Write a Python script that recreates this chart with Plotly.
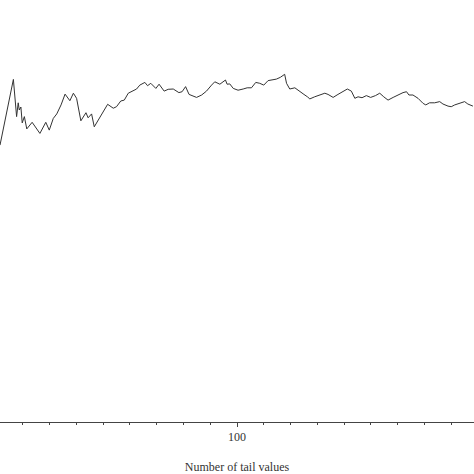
import plotly.graph_objects as go

# tail count and estimate
tail_values = [11.5, 16.5, 17.7, 18.3, 18.7, 19.3, 19.8, 20.6, 21.5, 23.5,
               26.4, 28.6, 29.9, 31.4, 32.7, 34.3, 35.8, 37.6, 38.9, 40.1,
               41.7, 43.6, 44.4, 45.7, 46.7, 49.4, 51.7, 53.8, 55.0, 56.6,
               57.9, 59.4, 60.6, 62.5, 63.7, 65.6, 66.6, 67.8, 69.7, 70.9,
               72.8, 74.3, 76.2, 78.3, 79.5, 80.8, 82.1, 83.6, 84.9, 86.8,
               88.6, 90.5, 91.7, 93.6, 94.8, 95.7, 96.3, 97.3, 98.6, 100.4,
               102.3, 103.8, 105.4, 107.0, 108.5, 110.0, 111.6, 113.3, 114.7, 116.2,
               117.8, 118.5, 119.7, 121.6, 123.4, 125.0, 126.3, 127.2, 129.0, 130.9,
               132.8, 134.0, 135.9, 137.7, 139.6, 141.2, 142.7, 144.0, 145.2, 146.7,
               148.3, 149.9, 151.7, 153.3, 154.8, 156.4, 158.3, 160.1, 162.0, 163.3,
               164.2, 165.7, 167.6, 169.5, 170.5, 171.9, 173.8, 175.7, 176.9, 178.8,
               180.0, 181.3, 183.1, 185.0, 186.2, 188.1]
estimate = [0.923, 1.142, 1.018, 1.064, 1.040, 1.050, 0.997, 1.018, 0.977, 0.999,
            0.962, 0.999, 0.973, 1.012, 1.027, 1.057, 1.093, 1.071, 1.096, 1.079,
            1.004, 1.031, 1.014, 1.027, 0.984, 1.023, 1.059, 1.046, 1.051, 1.070,
            1.073, 1.096, 1.101, 1.110, 1.123, 1.132, 1.121, 1.129, 1.112, 1.126,
            1.103, 1.109, 1.110, 1.098, 1.101, 1.118, 1.092, 1.088, 1.082, 1.090,
            1.103, 1.123, 1.134, 1.126, 1.134, 1.140, 1.126, 1.127, 1.112, 1.106,
            1.110, 1.114, 1.114, 1.132, 1.129, 1.123, 1.138, 1.140, 1.143, 1.149,
            1.159, 1.129, 1.110, 1.114, 1.101, 1.092, 1.084, 1.077, 1.084, 1.090,
            1.096, 1.092, 1.082, 1.092, 1.103, 1.110, 1.103, 1.079, 1.084, 1.081,
            1.088, 1.082, 1.088, 1.096, 1.084, 1.073, 1.082, 1.090, 1.098, 1.101,
            1.090, 1.090, 1.079, 1.062, 1.057, 1.064, 1.064, 1.068, 1.060, 1.053,
            1.051, 1.057, 1.062, 1.068, 1.060, 1.053]

x_range = [11.5, 188.5]
y_range = [0, 1.4067]

fig = go.Figure()
fig.add_trace(go.Scatter(x=tail_values, y=estimate, mode="lines",
                         line=dict(color="#333333", width=1), showlegend=False))

serif = "Liberation Serif, Times New Roman, serif"
fig.update_layout(
    width=474, height=474,
    margin=dict(l=0, r=0, t=0, b=52),
    paper_bgcolor="white", plot_bgcolor="white",
    font=dict(family=serif, size=12, color="#333333"),
    xaxis=dict(range=x_range, showgrid=False, zeroline=False,
               showline=True, linecolor="#444444", linewidth=1,
               tick0=0, dtick=100, ticks="outside", ticklen=4,
               tickcolor="#444444",
               minor=dict(dtick=10, ticks="outside", ticklen=2, tickcolor="#444444"),
               title=dict(text="Number of tail values", standoff=21,
                          font=dict(family=serif, size=12)),
               automargin=False),
    xaxis2=dict(range=x_range, overlaying="x", anchor="y", side="bottom",
                showgrid=False, zeroline=False, showline=False,
                showticklabels=False, tick0=0, dtick=100,
                ticks="inside", ticklen=3, tickcolor="#444444",
                minor=dict(dtick=10, ticks="inside", ticklen=2, tickcolor="#444444")),
    yaxis=dict(range=y_range, visible=False),
)

# drop the browser's default body margin so the figure sits at the window corner
fig.write_html("out.html", config={"displayModeBar": False},
               post_script="document.body.style.margin='0';")
